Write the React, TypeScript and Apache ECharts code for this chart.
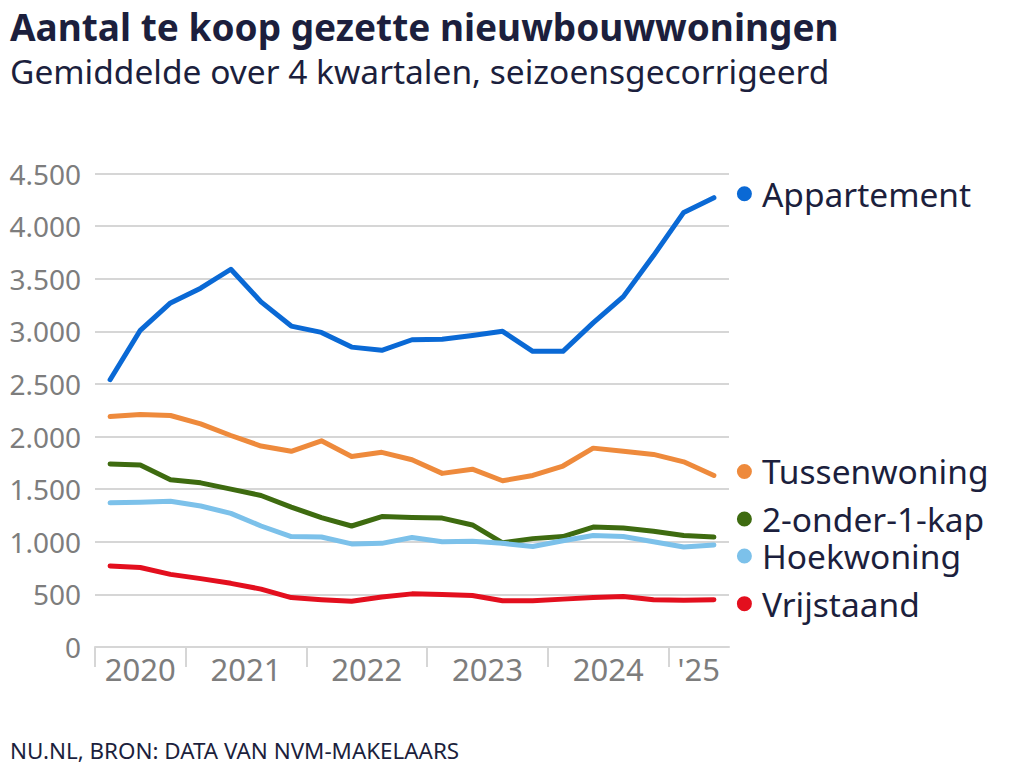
import React, { useEffect, useRef } from "react";
import * as echarts from "echarts";

// Quarterly points, 4-quarter moving average (2020 K2 .. 2025 K2)
const quarters = [
  "2020-K2", "2020-K3", "2020-K4",
  "2021-K1", "2021-K2", "2021-K3", "2021-K4",
  "2022-K1", "2022-K2", "2022-K3", "2022-K4",
  "2023-K1", "2023-K2", "2023-K3", "2023-K4",
  "2024-K1", "2024-K2", "2024-K3", "2024-K4",
  "2025-K1", "2025-K2",
];

const yearLabels: Record<string, string> = {
  "2020": "2020",
  "2021": "2021",
  "2022": "2022",
  "2023": "2023",
  "2024": "2024",
  "2025": "'25",
};

const appartement = [2540, 3010, 3270, 3410, 3590, 3280, 3050, 2990, 2850, 2820, 2920, 2925, 2960, 3000, 2810, 2810, 3080, 3330, 3720, 4130, 4270];
const tussenwoning = [2190, 2210, 2200, 2120, 2010, 1910, 1860, 1960, 1810, 1850, 1780, 1650, 1690, 1580, 1630, 1720, 1890, 1860, 1830, 1760, 1630];
const tweeOnderEenKap = [1740, 1730, 1590, 1560, 1500, 1440, 1330, 1230, 1150, 1240, 1230, 1225, 1160, 990, 1030, 1050, 1140, 1130, 1100, 1060, 1045];
const hoekwoning = [1370, 1375, 1385, 1340, 1270, 1150, 1050, 1045, 980, 985, 1040, 1000, 1005, 985, 955, 1010, 1060, 1050, 1000, 950, 970];
const vrijstaand = [770, 755, 690, 650, 605, 550, 470, 450, 435, 475, 505, 500, 490, 440, 440, 455, 470, 480, 450, 445, 450];

const NAVY = "#1c1f3d";
const GREY_TEXT = "#7d7d7d";
const GRID_GREY = "#d6d6d6";
const FONT = "Noto Sans";

const seriesDefs = [
  { name: "Appartement", data: appartement, color: "#0a69d5", dy: -4 },
  { name: "Tussenwoning", data: tussenwoning, color: "#ee8a3c", dy: -4 },
  { name: "2-onder-1-kap", data: tweeOnderEenKap, color: "#3e6b10", dy: -18 },
  { name: "Hoekwoning", data: hoekwoning, color: "#7cc1ea", dy: 11 },
  { name: "Vrijstaand", data: vrijstaand, color: "#e30f1e", dy: 4 },
];

// Year boundaries and label centres, in quarter-band units
function yearSpans() {
  const spans: { year: string; start: number; end: number }[] = [];
  quarters.forEach((q, i) => {
    const y = q.slice(0, 4);
    const last = spans[spans.length - 1];
    if (last && last.year === y) last.end = i + 1;
    else spans.push({ year: y, start: i, end: i + 1 });
  });
  return spans;
}

function thousands(v: number) {
  return String(v).replace(/\B(?=(\d{3})+(?!\d))/g, ".");
}

export default function App() {
  const ref = useRef<HTMLDivElement>(null);

  useEffect(() => {
    if (!ref.current) return;
    const chart = echarts.init(ref.current, null, { renderer: "svg" });
    const spans = yearSpans();
    const labelPos = spans.map((s) => (s.start + s.end) / 2);
    const tickPos = spans.map((s) => s.start);
    const labelAt = new Map<number, string>();
    spans.forEach((s, i) => labelAt.set(labelPos[i], yearLabels[s.year]));

    chart.setOption({
      animation: false,
      backgroundColor: "#ffffff",
      textStyle: { fontFamily: FONT },
      title: [
        {
          text: "Aantal te koop gezette nieuwbouwwoningen",
          left: 5,
          top: 3,
          textStyle: { fontFamily: FONT, fontSize: 37, fontWeight: "bold", color: NAVY },
        },
        {
          text: "Gemiddelde over 4 kwartalen, seizoensgecorrigeerd",
          left: 5,
          top: 49,
          textStyle: { fontFamily: FONT, fontSize: 33.5, fontWeight: "normal", color: NAVY },
        },
        {
          text: "NU.NL, BRON: DATA VAN NVM-MAKELAARS",
          left: 5,
          top: 734,
          textStyle: { fontFamily: FONT, fontSize: 22.4, fontWeight: "normal", color: NAVY },
        },
      ],
      grid: {
        left: 95,
        right: 295,
        top: 173.5,
        bottom: 121,
        containLabel: false,
        outerBoundsMode: "none",
      },
      xAxis: [
        {
          type: "category",
          data: quarters,
          boundaryGap: true,
          axisLine: { show: true, lineStyle: { color: GRID_GREY, width: 2 } },
          axisTick: { show: false },
          axisLabel: { show: false },
          splitLine: { show: false },
        },
        {
          type: "value",
          position: "bottom",
          min: 0,
          max: quarters.length,
          axisLine: { show: false },
          splitLine: { show: false },
          axisTick: {
            show: true,
            customValues: tickPos,
            length: 20,
            lineStyle: { color: GRID_GREY, width: 2 },
          },
          axisLabel: {
            show: true,
            customValues: labelPos,
            margin: 6,
            color: GREY_TEXT,
            fontSize: 31,
            fontFamily: FONT,
            formatter: (v: number) => labelAt.get(v) ?? "",
          },
        },
      ],
      yAxis: {
        type: "value",
        min: 0,
        max: 4500,
        interval: 500,
        axisLine: { show: false },
        axisTick: { show: false },
        splitLine: { lineStyle: { color: GRID_GREY, width: 2 } },
        axisLabel: {
          margin: 14,
          color: GREY_TEXT,
          fontSize: 28,
          fontFamily: FONT,
          formatter: (v: number) => thousands(v),
        },
      },
      series: seriesDefs.map((s) => ({
        name: s.name,
        type: "line",
        xAxisIndex: 0,
        data: s.data,
        symbol: "none",
        lineStyle: { color: s.color, width: 5, cap: "round", join: "round" },
        itemStyle: { color: s.color },
        endLabel: {
          show: true,
          distance: 23,
          offset: [0, s.dy],
          formatter: () => `{d|}{n|${s.name}}`,
          rich: {
            d: {
              width: 15,
              height: 15,
              borderRadius: 7.5,
              backgroundColor: s.color,
              verticalAlign: "middle",
            },
            n: {
              fontFamily: FONT,
              fontSize: 33.5,
              lineHeight: 28,
              color: NAVY,
              padding: [0, 0, 0, 10],
              verticalAlign: "middle",
            },
          },
        },
      })),
    });

    return () => chart.dispose();
  }, []);

  return (
    <div
      ref={ref}
      style={{ position: "absolute", left: 0, top: 0, width: 1024, height: 768 }}
    />
  );
}
